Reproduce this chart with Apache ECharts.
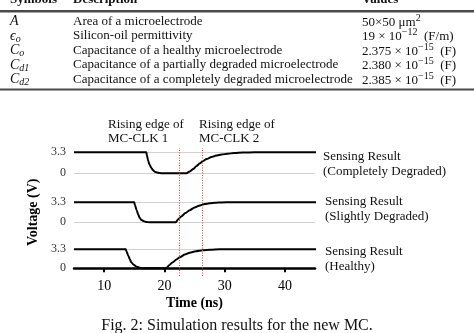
<!DOCTYPE html>
<html>
<head>
<meta charset="utf-8">
<script src="https://cdn.jsdelivr.net/npm/echarts@6/dist/echarts.min.js"></script>
<style>html,body{margin:0;padding:0;background:#fff}#c{width:474px;height:333px}</style>
</head>
<body>
<div id="c"></div>
<script>
// ---- data ----
const xTicks = [10, 20, 30, 40];
const yTickLabels = ['0', '3.3'];
const clkEdges = [22.5, 26.3];   // rising edges of MC-CLK 1 and MC-CLK 2 (ns)

const tCompletely = [5, 17.0, 17.1, 17.3, 17.55, 17.85, 18.1, 18.4, 18.8, 19.2, 19.8, 23.7, 24.2, 24.8, 25.3, 25.9, 26.4, 27.0, 27.8, 28.6, 29.5, 30.5, 31.6, 33, 35, 45.3];
const vCompletely = [3.3, 3.3, 2.85, 2.0, 1.35, 0.84, 0.5, 0.26, 0.12, 0.05, 0, 0, 0.3, 0.68, 1.12, 1.57, 1.92, 2.25, 2.55, 2.78, 2.95, 3.08, 3.18, 3.26, 3.3, 3.3];

const tSlightly = [5, 15.0, 15.1, 15.4, 15.65, 15.9, 16.2, 16.6, 17.0, 17.6, 21.9, 22.3, 22.8, 23.5, 24.2, 25.0, 25.9, 26.7, 27.5, 28.4, 29.5, 31, 45.3];
const vSlightly = [3.3, 3.3, 2.9, 2.0, 1.3, 0.74, 0.38, 0.17, 0.06, 0, 0, 0.5, 0.97, 1.52, 2.0, 2.44, 2.79, 3.0, 3.13, 3.22, 3.28, 3.3, 3.3];

const tHealthy = [5, 13.6, 13.7, 14.0, 14.25, 14.5, 14.9, 15.4, 15.9, 16.5, 20.3, 20.8, 21.4, 22.0, 22.6, 23.4, 24.2, 25.2, 26.4, 27.6, 29.2, 45.3];
const vHealthy = [3.3, 3.3, 2.95, 2.24, 1.6, 1.06, 0.6, 0.29, 0.1, 0, 0, 0.55, 1.06, 1.52, 1.94, 2.38, 2.71, 2.95, 3.12, 3.22, 3.3, 3.3];

const panelLabels = [
  ['Sensing Result', '(Completely Degraded)'],
  ['Sensing Result', '(Slightly Degraded)'],
  ['Sensing Result', '(Healthy)']
];
const clkLabels = [['Rising edge of', 'MC-CLK 1'], ['Rising edge of', 'MC-CLK 2']];

const tableHeader = ['Symbols', 'Description', 'Values'];
const tableSymbols = ['{i|A}', '{i|ϵ}{sub|o}', '{i|C}{sub|o}', '{i|C}{sub|d1}', '{i|C}{sub|d2}'];
const tableDescriptions = [
  'Area of a microelectrode',
  'Silicon-oil permittivity',
  'Capacitance of a healthy microelectrode',
  'Capacitance of a partially degraded microelectrode',
  'Capacitance of a completely degraded microelectrode'
];
const tableValues = [
  '50×50 μm{sup|2}',
  '19 × 10{sup|−12}  (F/m)',
  '2.375 × 10{sup|−15}  (F)',
  '2.380 × 10{sup|−15}  (F)',
  '2.385 × 10{sup|−15}  (F)'
];
const caption = 'Fig. 2: Simulation results for the new MC.';
const xName = 'Time (ns)';
const yName = 'Voltage (V)';

// ---- build ----
const zip = (t, v) => t.map((x, i) => [x, v[i]]);
const SERIF = '"Liberation Serif","DejaVu Serif",serif';
const X0 = 74, XW = 241, XMIN = 5, XMAX = 45;
const panels = [
  {top: 152.3, height: 21, data: zip(tCompletely, vCompletely)},
  {top: 202.3, height: 20, data: zip(tSlightly, vSlightly)},
  {top: 249.3, height: 19, data: zip(tHealthy, vHealthy)}
];

const grid = panels.map(p => ({left: X0, width: XW, top: p.top, height: p.height}));
grid.push({left: X0, width: XW, top: 148, height: 128});

const xAxis = panels.map((p, i) => {
  const last = i === 2;
  return {
    type: 'value', gridIndex: i, min: XMIN, max: XMAX, show: last,
    offset: last ? 7 : 0,
    axisLine: {show: last, lineStyle: {color: '#000', width: 2.5}},
    axisTick: {show: last, customValues: xTicks, length: 4, lineStyle: {color: '#000', width: 2}},
    axisLabel: {show: last, customValues: xTicks, color: '#000', fontFamily: SERIF, fontSize: 14, margin: 4},
    splitLine: {show: false},
    name: last ? xName : '', nameLocation: 'middle', nameGap: 21,
    nameTextStyle: {fontFamily: SERIF, fontSize: 14, fontWeight: 'bold', color: '#000'}
  };
});
xAxis.push({type: 'value', gridIndex: 3, min: XMIN, max: XMAX, show: false});

const yAxis = panels.map((p, i) => ({
  type: 'value', gridIndex: i, min: 0, max: 3.3, interval: 3.3,
  axisLine: {show: false}, axisTick: {show: false},
  axisLabel: {color: '#333', fontFamily: SERIF, fontSize: 12, margin: 8,
    formatter: v => (Math.abs(v) < 1e-9 ? yTickLabels[0] : yTickLabels[1])},
  splitLine: {show: true, lineStyle: {color: '#d2d2d2', width: 1}},
  name: i === 1 ? yName : '', nameLocation: 'middle', nameGap: 24, nameRotate: 90,
  nameTextStyle: {fontFamily: SERIF, fontSize: 14, fontWeight: 'bold', color: '#000'}
}));
yAxis.push({type: 'value', gridIndex: 3, min: 0, max: 1, show: false});

const series = panels.map((p, i) => ({
  type: 'line', xAxisIndex: i, yAxisIndex: i, data: p.data,
  showSymbol: false, smooth: 0.25, smoothMonotone: 'x', clip: false,
  lineStyle: {color: '#000', width: 2}, silent: true
}));
series.push({
  type: 'line', xAxisIndex: 3, yAxisIndex: 3, data: [], silent: true,
  markLine: {
    silent: true, symbol: ['none', 'none'], label: {show: false},
    lineStyle: {color: '#e3404f', type: [1, 1.5], width: 1},
    data: clkEdges.map(x => ({xAxis: x}))
  }
});

// text graphics
const txt = (x, y, text, o = {}) => ({
  type: 'text', x, y, silent: true,
  style: Object.assign({text, fill: '#111', font: '13px ' + SERIF, align: 'left', verticalAlign: 'middle'}, o)
});
const richTable = {
  i: {fontStyle: 'italic', fontSize: 14, fontFamily: SERIF, lineHeight: 16, verticalAlign: 'middle'},
  sub: {fontStyle: 'italic', fontSize: 10, fontFamily: SERIF, lineHeight: 9, verticalAlign: 'bottom'},
  sup: {fontSize: 10, fontFamily: SERIF, lineHeight: 9, verticalAlign: 'top'}
};
const graphic = [];
graphic.push({type: 'rect', shape: {x: 0, y: 10, width: 474, height: 2.4}, style: {fill: '#4a4a4a'}, silent: true});
graphic.push({type: 'rect', shape: {x: 0, y: 88.6, width: 474, height: 2}, style: {fill: '#4a4a4a'}, silent: true});
const colX = [10, 73, 362];
tableHeader.forEach((h, i) => graphic.push(txt(colX[i], 0, h, {font: 'bold 13px ' + SERIF})));
const rowY = [21.5, 36, 50.5, 65, 79.5];
rowY.forEach((y, r) => {
  graphic.push(txt(colX[0], y, tableSymbols[r], {rich: richTable, font: '14px ' + SERIF}));
  graphic.push(txt(colX[1], y, tableDescriptions[r]));
  graphic.push(txt(colX[2], y + 1, tableValues[r], {rich: richTable, font: '13px ' + SERIF, lineHeight: 19}));
});
const clkX = [108, 199];
clkLabels.forEach((l, i) => {
  graphic.push(txt(clkX[i], 125, l[0]));
  graphic.push(txt(clkX[i], 139, l[1]));
});
const lblX = [323, 325, 325];
const lblY = [157, 202, 252];
panelLabels.forEach((l, i) => {
  graphic.push(txt(lblX[i], lblY[i], l[0]));
  graphic.push(txt(lblX[i], lblY[i] + 15, l[1]));
});
graphic.push(txt(237, 326, caption, {align: 'center', font: '16px ' + SERIF}));

const chart = echarts.init(document.getElementById('c'), null, {renderer: 'canvas'});
chart.setOption({animation: false, grid, xAxis, yAxis, series, graphic});
</script>
</body>
</html>
